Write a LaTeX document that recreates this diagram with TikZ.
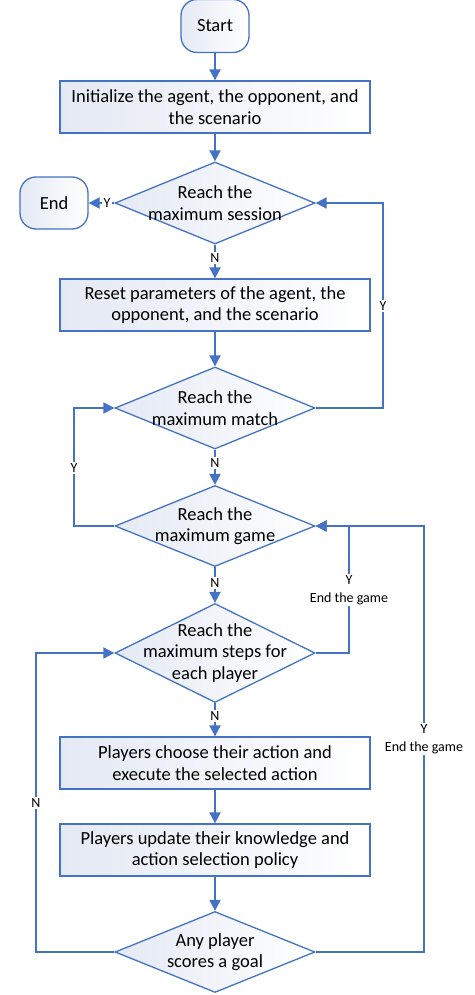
\documentclass[tikz,border=0pt]{standalone}
\usepackage{fontspec}
\setmainfont{Carlito}
\usetikzlibrary{shapes.geometric,arrows.meta}
\definecolor{lc}{RGB}{68,114,196}
\definecolor{fc}{RGB}{228,233,244}
\begin{document}
\begin{tikzpicture}[x=1pt,y=-1pt,
  txt/.style={inner sep=0pt,font=\fontsize{18.5}{21.5}\selectfont,align=center},
  base/.style={txt,draw=lc,line width=1.3pt,left color=fc,right color=white},
  term/.style={base,rounded corners=16pt,minimum width=68pt,minimum height=53pt},
  proc/.style={base,minimum width=310pt,minimum height=52pt},
  dec/.style={base,diamond,minimum width=200pt},
  arr/.style={draw=lc,line width=2pt,-{Triangle[length=11pt,width=11pt]}},
  lab/.style={fill=white,inner sep=1.5pt,font=\fontsize{14}{18}\selectfont,align=center}]
\useasboundingbox (0,0) rectangle (474,995);
\node[term] (start) at (215,26) {Start};
\node[proc] (init) at (215,107) {Initialize the agent, the opponent, and\\the scenario};
\node[dec,minimum height=82pt,label={[txt]center:Reach the\\maximum session}] (d1) at (215,203) {};
\node[term,minimum height=52pt] (end) at (54,203) {End};
\node[proc] (reset) at (215,305) {Reset parameters of the agent, the\\opponent, and the scenario};
\node[dec,minimum height=82pt,label={[txt]center:Reach the\\maximum match}] (d2) at (215,408) {};
\node[dec,minimum height=81pt,label={[txt]center:Reach the\\maximum game}] (d3) at (215,526) {};
\node[dec,minimum height=99pt,label={[txt]center:Reach the\\maximum steps for\\each player}] (d4) at (215,653) {};
\node[proc] (play) at (215,763) {Players choose their action and\\execute the selected action};
\node[proc] (upd) at (215,850) {Players update their knowledge and\\action selection policy};
\node[dec,minimum height=81pt,label={[txt]center:Any player\\scores a goal}] (d5) at (215,952) {};

\coordinate (c1) at (383,408);
\coordinate (c2) at (74,526);
\coordinate (c3) at (349,653);
\coordinate (c4) at (424,952);
\coordinate (c5) at (36,952);

\draw[arr] (start) -- (init);
\draw[arr] (init) -- (d1);
\draw[arr] (d1.west) -- (end.east);
\draw[arr] (d1.south) -- (reset.north);
\draw[arr] (reset) -- (d2.north);
\draw[arr] (d2.south) -- (d3.north);
\draw[arr] (d3.south) -- (d4.north);
\draw[arr] (d4.south) -- (play.north);
\draw[arr] (play) -- (upd);
\draw[arr] (upd) -- (d5.north);
\draw[arr] (d2.east) -- (c1) |- (d1.east);
\draw[arr] (d3.west) -- (c2) |- (d2.west);
\draw[arr] (d4.east) -- (c3) |- (d3.east);
\draw[arr] (d5.east) -- (c4) |- (d3.east);
\draw[arr] (d5.west) -- (c5) |- (d4.west);

\node[lab] (ly1) at (107,203) {Y};
\node[lab] (ln1) at (215,258) {N};
\node[lab] (ly2) at (383,306) {Y};
\node[lab] (ln2) at (215,463) {N};
\node[lab] (ly3) at (74,468) {Y};
\node[lab] (ln3) at (215,583) {N};
\node[lab] (ly4) at (349,590) {Y\\End the game};
\node[lab] (ln4) at (215,716) {N};
\node[lab] (ly5) at (424,739) {Y\\End the game};
\node[lab] (ln5) at (36,803) {N};
\end{tikzpicture}
\end{document}
